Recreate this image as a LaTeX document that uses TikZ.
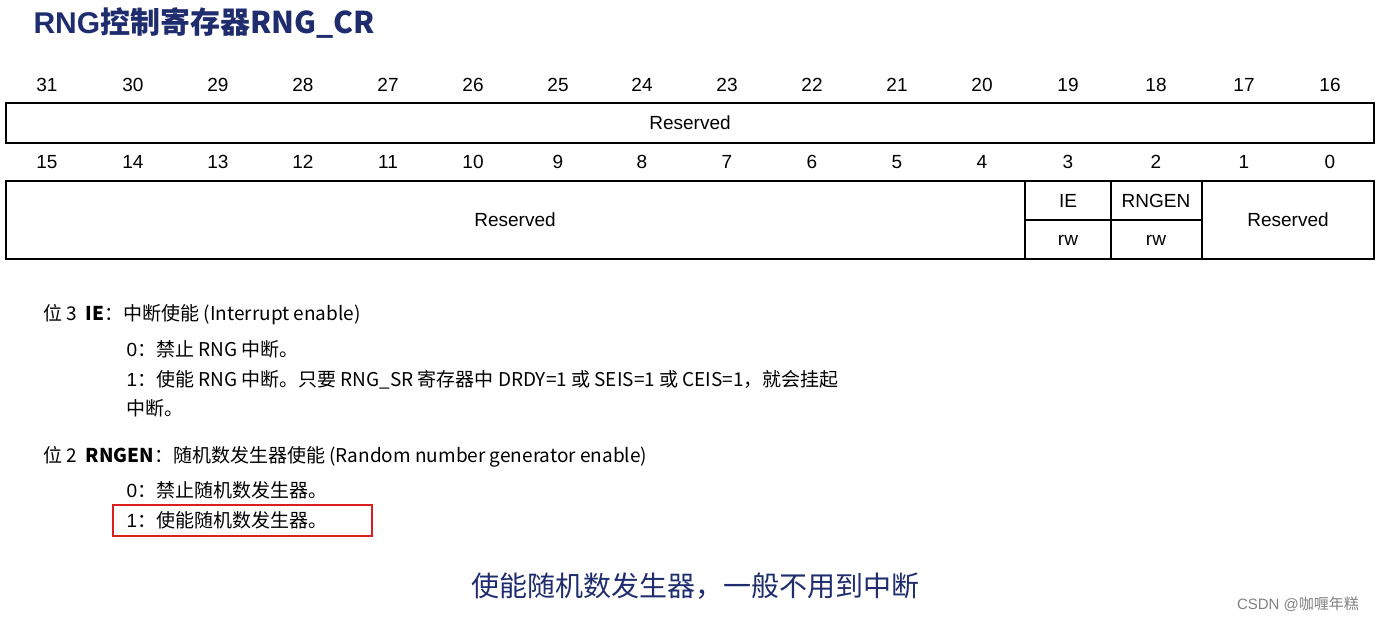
\documentclass[tikz,border=0pt]{standalone}
\usepackage{fontspec}
\setmainfont{Liberation Sans}
\newfontfamily\cjk{Noto Sans CJK SC}
\usepackage{tikz}
\usetikzlibrary{positioning}
\definecolor{navy}{RGB}{31,45,110}
\definecolor{markred}{RGB}{220,30,30}

\begin{document}
\begin{tikzpicture}
   [x=1pt,y=-1pt,font=\fontsize{19}{22}\selectfont,
    bitno/.style={anchor=base},
    cell/.style={anchor=center},
    line/.style={anchor=base west}]
   \useasboundingbox (0,0) rectangle (1382,622);

   \node[anchor=base west,text=navy,font=\fontsize{30}{34}\selectfont\bfseries] (title) at (30,33)
      {RNG\cjk{控制寄存器}RNG\_CR};

   % bit numbers
   \foreach \x [count=\i from 0] in {47,133,218,303,388,473,558,642,727,812,897,982,1068,1156,1244,1330} {
      \pgfmathtruncatemacro{\hi}{31-\i}
      \pgfmathtruncatemacro{\lo}{15-\i}
      \node[bitno] (h\i) at (\x,91) {\hi};
      \node[bitno] (l\i) at (\x,168) {\lo};
   }

   \begin{scope}[line width=1.2pt]
      \draw (6,103) rectangle (1374,143);
      \draw (6,181) rectangle (1374,259);
      \draw (1025,181) -- (1025,259);
      \draw (1111,181) -- (1111,259);
      \draw (1202,181) -- (1202,259);
      \draw (1025,220) -- (1202,220);
   \end{scope}

   \node[cell] (res1) at (690,123) {Reserved};
   \node[cell] (res2) at (515,220) {Reserved};
   \node[cell] (ie) at (1068,201) {IE};
   \node[cell] (ierw) at (1068,240) {rw};
   \node[cell] (en) at (1156,201) {RNGEN};
   \node[cell] (enrw) at (1156,240) {rw};
   \node[cell] (res3) at (1288,220) {Reserved};

   % descriptions
   \node[line] (b3) at (40,320) {\cjk{位} 3\ \ \textbf{IE}\cjk{：中断使能} (Interrupt enable)};
   \node[line] (b3a) at (123,356) {0\cjk{：禁止} RNG \cjk{中断。}};
   \node[line] (b3b) at (123,386) {1\cjk{：使能} RNG \cjk{中断。只要} RNG\_SR \cjk{寄存器中} DRDY=1 \cjk{或} SEIS=1 \cjk{或} CEIS=1\cjk{，就会挂起}};
   \node[line] (b3c) at (123,415) {\cjk{中断。}};
   \node[line] (b2) at (40,462) {\cjk{位} 2\ \ \textbf{RNGEN}\cjk{：随机数发生器使能} (Random number generator enable)};
   \node[line] (b2a) at (123,497) {0\cjk{：禁止随机数发生器。}};
   \node[line] (b2b) at (123,527) {1\cjk{：使能随机数发生器。}};
   \draw[markred,line width=1.2pt] (113,505) rectangle (372,536);

   \node[text=navy,font=\fontsize{28}{32}\selectfont\cjk] (note) at (695,586)
      {使能随机数发生器，一般不用到中断};
   \node[text=gray,font=\fontsize{15}{18}\selectfont] (wm) at (1298,604) {CSDN @\cjk{咖喱年糕}};
\end{tikzpicture}
\end{document}
